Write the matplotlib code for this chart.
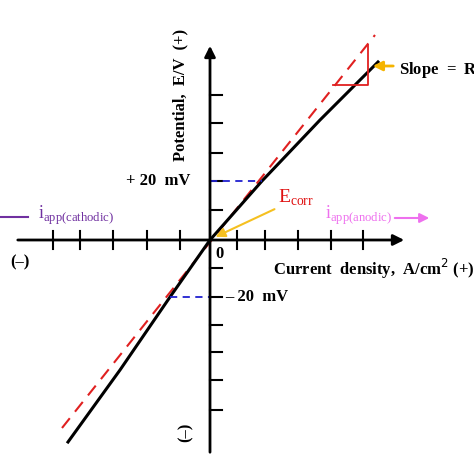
import matplotlib
matplotlib.use("Agg")
import matplotlib.pyplot as plt

# data (current offset, potential offset; arbitrary schematic units)
curve_i = [-142, -90, -40, 0, 52, 110, 168]
curve_E = [-202, -130, -57, 0, 59, 120, 178]
tangent_i = [-148, 165]
tangent_E = [-188, 205]
xticks = [-157, -130, -97, -63, -30, 27, 55, 88, 121, 153]
yticks = [145, 117, 87, 59, 30, -28, -57, -85, -112, -140, -170]

fig = plt.figure(figsize=(4.74, 4.74), dpi=100)
ax = fig.add_axes([0, 0, 1, 1])
ax.set_xlim(-210, 264)
ax.set_ylim(-234, 240)
ax.axis('off')
font = dict(family='Liberation Serif', fontweight='bold')

# axes
ax.annotate('', xy=(197, 0), xytext=(-195, 0),
            arrowprops=dict(arrowstyle='-|>', color='black', lw=2, mutation_scale=16))
ax.annotate('', xy=(0, 197), xytext=(0, -215),
            arrowprops=dict(arrowstyle='-|>', color='black', lw=2, mutation_scale=16))
for t in xticks:
    ax.plot([t, t], [-9, 9], color='black', lw=1.5)
for t in yticks:
    ax.plot([0, 12], [t, t], color='black', lw=1.5)

ax.plot(tangent_i, tangent_E, color='#e02020', ls=(0, (6, 4)), lw=1.5)
ax.plot(curve_i, curve_E, color='black', lw=2.2)
ax.plot([0, 52], [59, 59], color='#2020d0', ls=(0, (4, 3)), lw=1.3)
ax.plot([-40, 0], [-57, -57], color='#2020d0', ls=(0, (4, 3)), lw=1.3)
ax.plot([123, 158, 158], [155, 155, 195], color='#e02020', lw=1.3)

ax.annotate('', xy=(160, 174), xytext=(186, 174),
            arrowprops=dict(arrowstyle='-|>', color='#f5b400', lw=2, mutation_scale=14))
ax.annotate('', xy=(3, 2), xytext=(67, 32),
            arrowprops=dict(arrowstyle='-|>', color='#f5c020', lw=1.5, mutation_scale=14))
ax.text(189, 168, 'Slope  =  R$_p$', fontsize=12, va='center', **font)
ax.text(68, 32, r'E$_{\mathregular{corr}}$', fontsize=14, color='#e01010', va='bottom', family='Liberation Serif')
ax.plot([-210, -182], [23, 23], color='#7030a0', lw=1.5)
ax.text(-172, 25, r'i$_{\mathregular{app(cathodic)}}$', fontsize=13, color='#7030a0', va='center', family='Liberation Serif')
ax.text(115, 25, r'i$_{\mathregular{app(anodic)}}$', fontsize=13, color='#ee70ee', va='center', family='Liberation Serif')
ax.annotate('', xy=(222, 22), xytext=(182, 22),
            arrowprops=dict(arrowstyle='-|>', color='#ee70ee', lw=1.5, mutation_scale=14))

ax.text(-30, 145, 'Potential,  E/V  (+)', rotation=90, fontsize=12, ha='center', va='center', **font)
ax.text(63, -29, 'Current  density,  A/cm$^2$ (+)', fontsize=12, ha='left', va='center', **font)
ax.text(-190, -22, '(–)', fontsize=12, ha='center', va='center', **font)
ax.text(-24, -192, '(–)', fontsize=12, rotation=90, ha='center', va='center', **font)
ax.text(9, -14, '0', fontsize=12, ha='center', va='center', **font)
ax.text(-20, 59, '+ 20  mV', fontsize=12, ha='right', va='center', **font)
ax.text(15, -57, '– 20  mV', fontsize=12, ha='left', va='center', **font)

fig.savefig('out.png', dpi=100)
